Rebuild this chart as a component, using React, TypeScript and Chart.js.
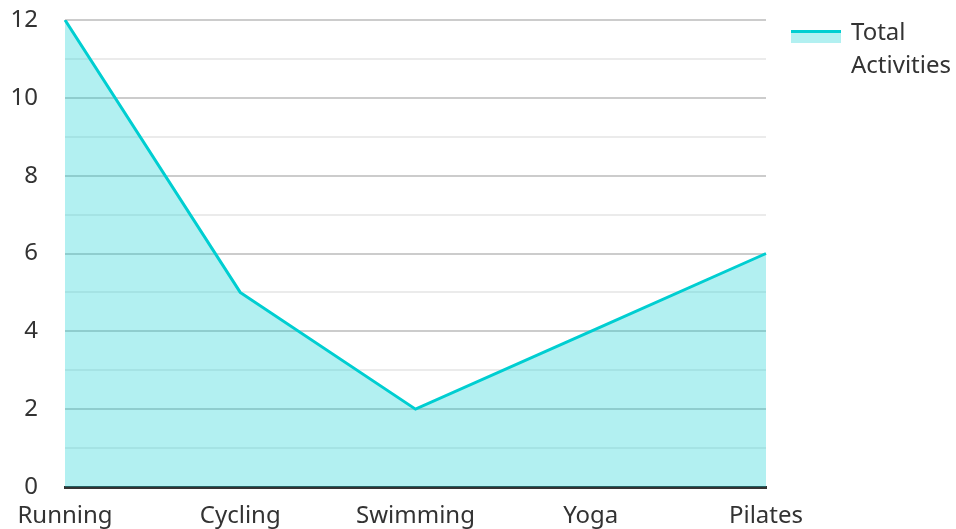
import React, { useEffect, useRef } from "react";
import { Chart, registerables } from "chart.js";

Chart.register(...registerables);

const categories = ["Running", "Cycling", "Swimming", "Yoga", "Pilates"];
const totalActivities = [12, 5, 2, 4, 6];
const legendLines = ["Total", "Activities"];
const seriesLabel = "Total Activities";

const LINE = "rgb(0,206,209)";
const FILL = "rgba(0,206,209,0.3)";
const FONT = "'Noto Sans', sans-serif";

const legendPlugin = {
  id: "customLegend",
  afterDraw(chart: any) {
    const ctx = chart.ctx;
    const x0 = chart.chartArea.right + 25;
    const y0 = 30;
    ctx.save();
    ctx.fillStyle = FILL;
    ctx.fillRect(x0, y0, 50, 13);
    ctx.strokeStyle = LINE;
    ctx.lineWidth = 3;
    ctx.beginPath();
    ctx.moveTo(x0, y0 + 1.5);
    ctx.lineTo(x0 + 50, y0 + 1.5);
    ctx.stroke();
    ctx.fillStyle = "#333";
    ctx.font = `24px ${FONT}`;
    ctx.textBaseline = "middle";
    ctx.textAlign = "left";
    legendLines.forEach((t, i) => ctx.fillText(t, x0 + 60, y0 + 3 + i * 33));
    ctx.restore();
  },
};

export default function App() {
  const ref = useRef<HTMLCanvasElement>(null);
  useEffect(() => {
    document.body.style.margin = "0";
    const chart = new Chart(ref.current!, {
      type: "line",
      data: {
        labels: categories,
        datasets: [
          {
            label: seriesLabel,
            data: totalActivities,
            borderColor: LINE,
            backgroundColor: FILL,
            borderWidth: 3,
            fill: "origin",
            pointRadius: 0,
            tension: 0,
          },
        ],
      },
      options: {
        animation: false,
        responsive: false,
        maintainAspectRatio: false,
        layout: { padding: { top: 20, right: 190, left: 0, bottom: 0 } },
        plugins: { legend: { display: false }, tooltip: { enabled: false } },
        scales: {
          x: {
            offset: false,
            grid: { display: false },
            border: { display: true, color: "#333", width: 3 },
            ticks: {
              color: "#333",
              font: { family: FONT, size: 24 },
              padding: 7,
              maxRotation: 0,
              autoSkip: false,
            },
            afterFit: (s: any) => {
              s.height = 42;
            },
          },
          y: {
            min: 0,
            max: 12,
            z: 1,
            border: { display: false },
            grid: {
              drawTicks: false,
              lineWidth: 2,
              color: (c: any) =>
                c.tick && c.tick.value === 0
                  ? "rgba(0,0,0,0)"
                  : c.tick && c.tick.value % 2 === 0
                  ? "rgba(0,0,0,0.2)"
                  : "rgba(0,0,0,0.08)",
            },
            ticks: {
              stepSize: 1,
              color: "#333",
              font: { family: FONT, size: 24 },
              padding: 27,
              callback: (v: any) => (Number(v) % 2 === 0 ? String(v) : ""),
            },
            afterFit: (s: any) => {
              s.width = 65;
              s.paddingTop = 0;
              s.paddingBottom = 0;
            },
          },
        },
      },
      plugins: [legendPlugin],
    });
    return () => chart.destroy();
  }, []);
  return <canvas ref={ref} width={956} height={529} style={{ display: "block" }} />;
}
